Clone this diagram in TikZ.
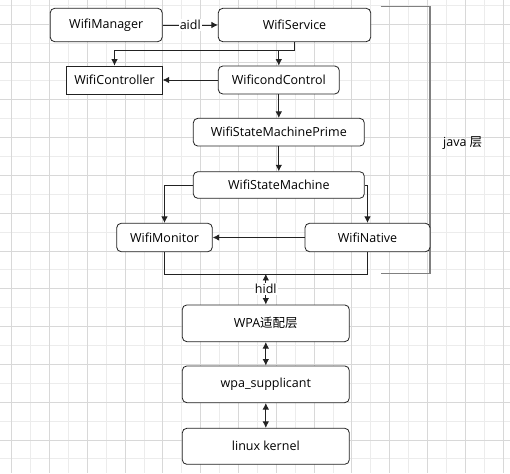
\documentclass[tikz,border=0pt]{standalone}
\usepackage{fontspec}
\setmainfont{Open Sans}
\newfontfamily\cjk{Noto Sans CJK SC}
\usepackage{tikz}
\usetikzlibrary{arrows,arrows.meta,shapes}

\definecolor{gridlight}{RGB}{236,236,236}
\definecolor{griddark}{RGB}{216,216,216}
\definecolor{edge}{RGB}{34,34,34}
\definecolor{bracket}{RGB}{128,128,128}

\begin{document}
\begin{tikzpicture}[x=1pt,y=-1pt,>={Latex[length=6.5pt,width=6.5pt]},
        box/.style={draw=edge,line width=0.8pt,rounded corners=4.5pt,fill=white,
                    font=\fontsize{12.5}{14}\selectfont,inner sep=0pt},
        plainbox/.style={box,rounded corners=0pt},
        link/.style={draw=edge,line width=0.8pt},
        tag/.style={fill=white,inner sep=1pt,font=\fontsize{12.5}{14}\selectfont}]
        \useasboundingbox (0,0) rectangle (510,473);

        % draw the grid
        \foreach \x in {30.6,68.4,...,510} {
                \draw[gridlight,line width=0.9pt] (\x,0) -- (\x,473);
        }
        \foreach \y in {5.3,43.1,...,473} {
                \draw[gridlight,line width=0.9pt] (0,\y) -- (510,\y);
        }
        \foreach \x in {11.7,49.5,...,510} {
                \draw[griddark,line width=0.9pt] (\x,0) -- (\x,473);
        }
        \foreach \y in {24.2,62,...,473} {
                \draw[griddark,line width=0.9pt] (0,\y) -- (510,\y);
        }

        % draw the java layer bracket
        \coordinate (jtop) at (380.7,6.7);
        \coordinate (jbot) at (381,273.3);
        \draw[bracket,line width=1.2pt] (jtop) -- (430,6.7) -- (430,273.3) -- (jbot);
        \node (java) at (462.7,142.7) {\fontsize{12.5}{14}\selectfont java {\cjk 层}};

        % draw the boxes
        \node[box,minimum width=112pt,minimum height=33.4pt] (mgr) at (106.2,25) {WifiManager};
        \node[box,minimum width=152.4pt,minimum height=33.4pt] (svc) at (294.5,25) {WifiService};
        \node[plainbox,minimum width=95.6pt,minimum height=28pt] (ctrl) at (114.5,80) {WifiController};
        \node[box,minimum width=121pt,minimum height=28pt] (cond) at (278.8,80) {WificondControl};
        \node[box,minimum width=171pt,minimum height=27.7pt] (prime) at (278.8,132.2) {WifiStateMachinePrime};
        \node[box,minimum width=171pt,minimum height=26.6pt] (sm) at (278.8,185) {WifiStateMachine};
        \node[box,minimum width=95.6pt,minimum height=28.4pt] (mon) at (164.5,237.5) {WifiMonitor};
        \node[box,minimum width=125pt,minimum height=28.4pt] (native) at (367.5,237.5) {WifiNative};
        \node[box,minimum width=167pt,minimum height=36.7pt] (wpa) at (265.8,323.3) {WPA{\cjk 适配层}};
        \node[box,minimum width=167pt,minimum height=36.7pt] (supp) at (265.8,384.3) {wpa\_supplicant};
        \node[box,minimum width=167pt,minimum height=36pt] (kernel) at (265.8,446.3) {linux kernel};

        % draw the java connectors
        \draw[link,->] (mgr) -- node[tag] {aidl} (svc);
        \path (svc.south) ++(0,8.3) coordinate (split);
        \draw[link,->] (split) -| (ctrl.north);
        \draw[link] (svc.south) -- (split);
        \draw[link,->] (cond.north |- split) -- (cond.north);
        \draw[link,->] (cond) -- (ctrl);
        \draw[link,->] (cond) -- (prime);
        \draw[link,->] (prime) -- (sm);
        \draw[link,->] (sm.west) -| (mon.north);
        \draw[link,->] (sm.east) -| (native.north);
        \draw[link,->] (native) -- (mon);

        % draw the native connectors
        \path (mon.south) ++(0,21.8) coordinate (bus);
        \draw[link] (mon.south) -- (bus) -| (native.south);
        \draw[link,<->] (wpa.north |- bus) -- node[tag] {hidl} (wpa.north);
        \draw[link,<->] (wpa) -- (supp);
        \draw[link,<->] (supp) -- (kernel);
\end{tikzpicture}
\end{document}
